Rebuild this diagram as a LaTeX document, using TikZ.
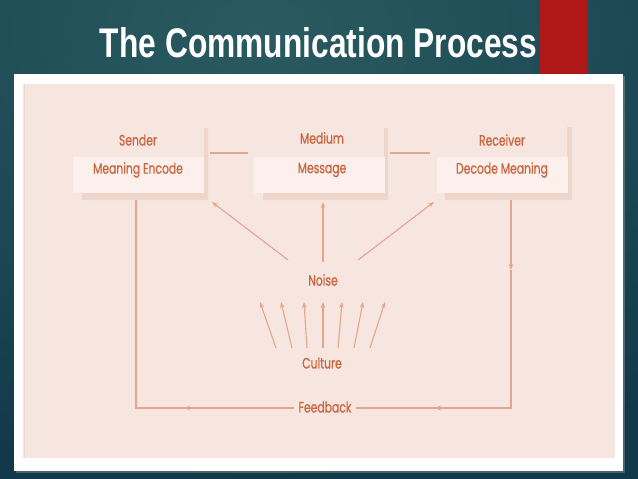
\documentclass[tikz,border=0pt]{standalone}
\usepackage{fontspec}
\setmainfont{Liberation Sans}
\newfontfamily\diagfont[FakeStretch=0.72,FakeBold=0.6]{Poppins}
\usetikzlibrary{arrows.meta}
\definecolor{teal0}{HTML}{12394A}
\definecolor{teal1}{HTML}{2A5B60}
\definecolor{redbar}{HTML}{B01818}
\definecolor{pinkbg}{HTML}{F7E5E0}
\definecolor{boxfill}{HTML}{FBF0EC}
\definecolor{shadowc}{HTML}{EED6CD}
\definecolor{txt}{HTML}{C8663F}
\definecolor{linec}{HTML}{E2A68D}
\tikzset{
  lbl/.style={font=\diagfont\fontsize{15}{16}\selectfont, text=txt, inner sep=1pt},
  boxn/.style={fill=boxfill, minimum width=131pt, minimum height=36pt, inner sep=0pt},
  shd/.style={fill=shadowc, draw=none},
  conn/.style={draw=linec, line width=1.1pt},
  arr/.style={conn, -{Stealth[length=6pt,width=4.5pt]}},
}
\begin{document}
\begin{tikzpicture}[x=1pt,y=-1pt]
\useasboundingbox (0,0) rectangle (638,479);
% background
\begin{scope}
\clip (0,0) rectangle (638,479);
\fill[teal0] (0,0) rectangle (638,479);
\shade[inner color=teal1, outer color=teal0] (-440,-420) rectangle (960,480);
\end{scope}
\fill[redbar] (540,0) rectangle (588,74);
\node[text=white, inner sep=0pt, anchor=south] (title) at (318.5,58)
  {\resizebox{437pt}{30pt}{\bfseries The Communication Process}};
% frame
\fill[black!35, opacity=0.4] (16,76) rectangle (625,473);
\fill[white] (14,74) rectangle (623,471);
\fill[pinkbg] (23,84) rectangle (615,458);
\draw[shadowc, line width=0.8pt] (24,84) -- (24,458);

% box shadows
\fill[shd] (204,128) -- (208,128) -- (208,200) -- (82,200) -- (82,193) -- (204,193) -- cycle;
\fill[shd] (384,128) -- (388,128) -- (388,200) -- (263,200) -- (263,193) -- (384,193) -- cycle;
\fill[shd] (567,127) -- (572,127) -- (572,200) -- (445,200) -- (445,193) -- (567,193) -- cycle;

% boxes
\node[boxn] (sbox) at (138.5,175) {};
\node[boxn] (mbox) at (319.5,175) {};
\node[boxn] (rbox) at (502,175) {};
\node[lbl] (menc) at (138,170) {Meaning Encode};
\node[lbl] (msg) at (322,170) {Message};
\node[lbl] (dmean) at (502,170) {Decode Meaning};
\node[lbl] (sender) at (138,140) {Sender};
\node[lbl] (medium) at (322,138) {Medium};
\node[lbl] (receiver) at (502,140) {Receiver};
\node[lbl] (noise) at (323,280) {Noise};
\node[lbl] (culture) at (322,363) {Culture};
\node[lbl, fill=pinkbg, inner xsep=4pt] (feedback) at (325,407) {Feedback};

% connectors between boxes
\coordinate (sR) at (210,153);
\coordinate (mL) at (248,153);
\coordinate (mR) at (390,153);
\coordinate (rL) at (430,153);
\draw[conn] (sR) -- (mL);
\draw[conn] (mR) -- (rL);

% noise arrows
\coordinate (n1) at (288,260);
\coordinate (n2) at (323,262);
\coordinate (n3) at (358,260);
\coordinate (t1) at (212,202);
\coordinate (t2) at (323,202);
\coordinate (t3) at (434,202);
\draw[arr] (n1) -- (t1);
\draw[arr] (n2) -- (t2);
\draw[arr] (n3) -- (t3);

% culture arrows
\foreach \bx/\tx [count=\i] in {276/260, 292/281, 307/304, 323/323, 338/342, 354/363, 370/385} {
  \coordinate (cb\i) at (\bx,348);
  \coordinate (ct\i) at (\tx,302);
  \draw[arr] (cb\i) -- (ct\i);
}

% feedback loop
\coordinate (rdown) at (511,200);
\coordinate (rmid) at (511,270);
\coordinate (rcorner) at (511,408);
\coordinate (fr) at (435,408);
\coordinate (fl) at (184,408);
\coordinate (lcorner) at (136,408);
\coordinate (sdown) at (136,200);
\coordinate (fbE) at (feedback.east |- rcorner);
\coordinate (fbW) at (feedback.west |- lcorner);
\draw[arr] (rdown) -- (rmid);
\draw[conn] (rmid) -- (rcorner) -- (fbE);
\draw[arr] (rcorner) -- (fr);
\draw[conn] (fbW) -- (lcorner) -- (sdown);
\draw[arr] (fbW) -- (fl);
\end{tikzpicture}
\end{document}
